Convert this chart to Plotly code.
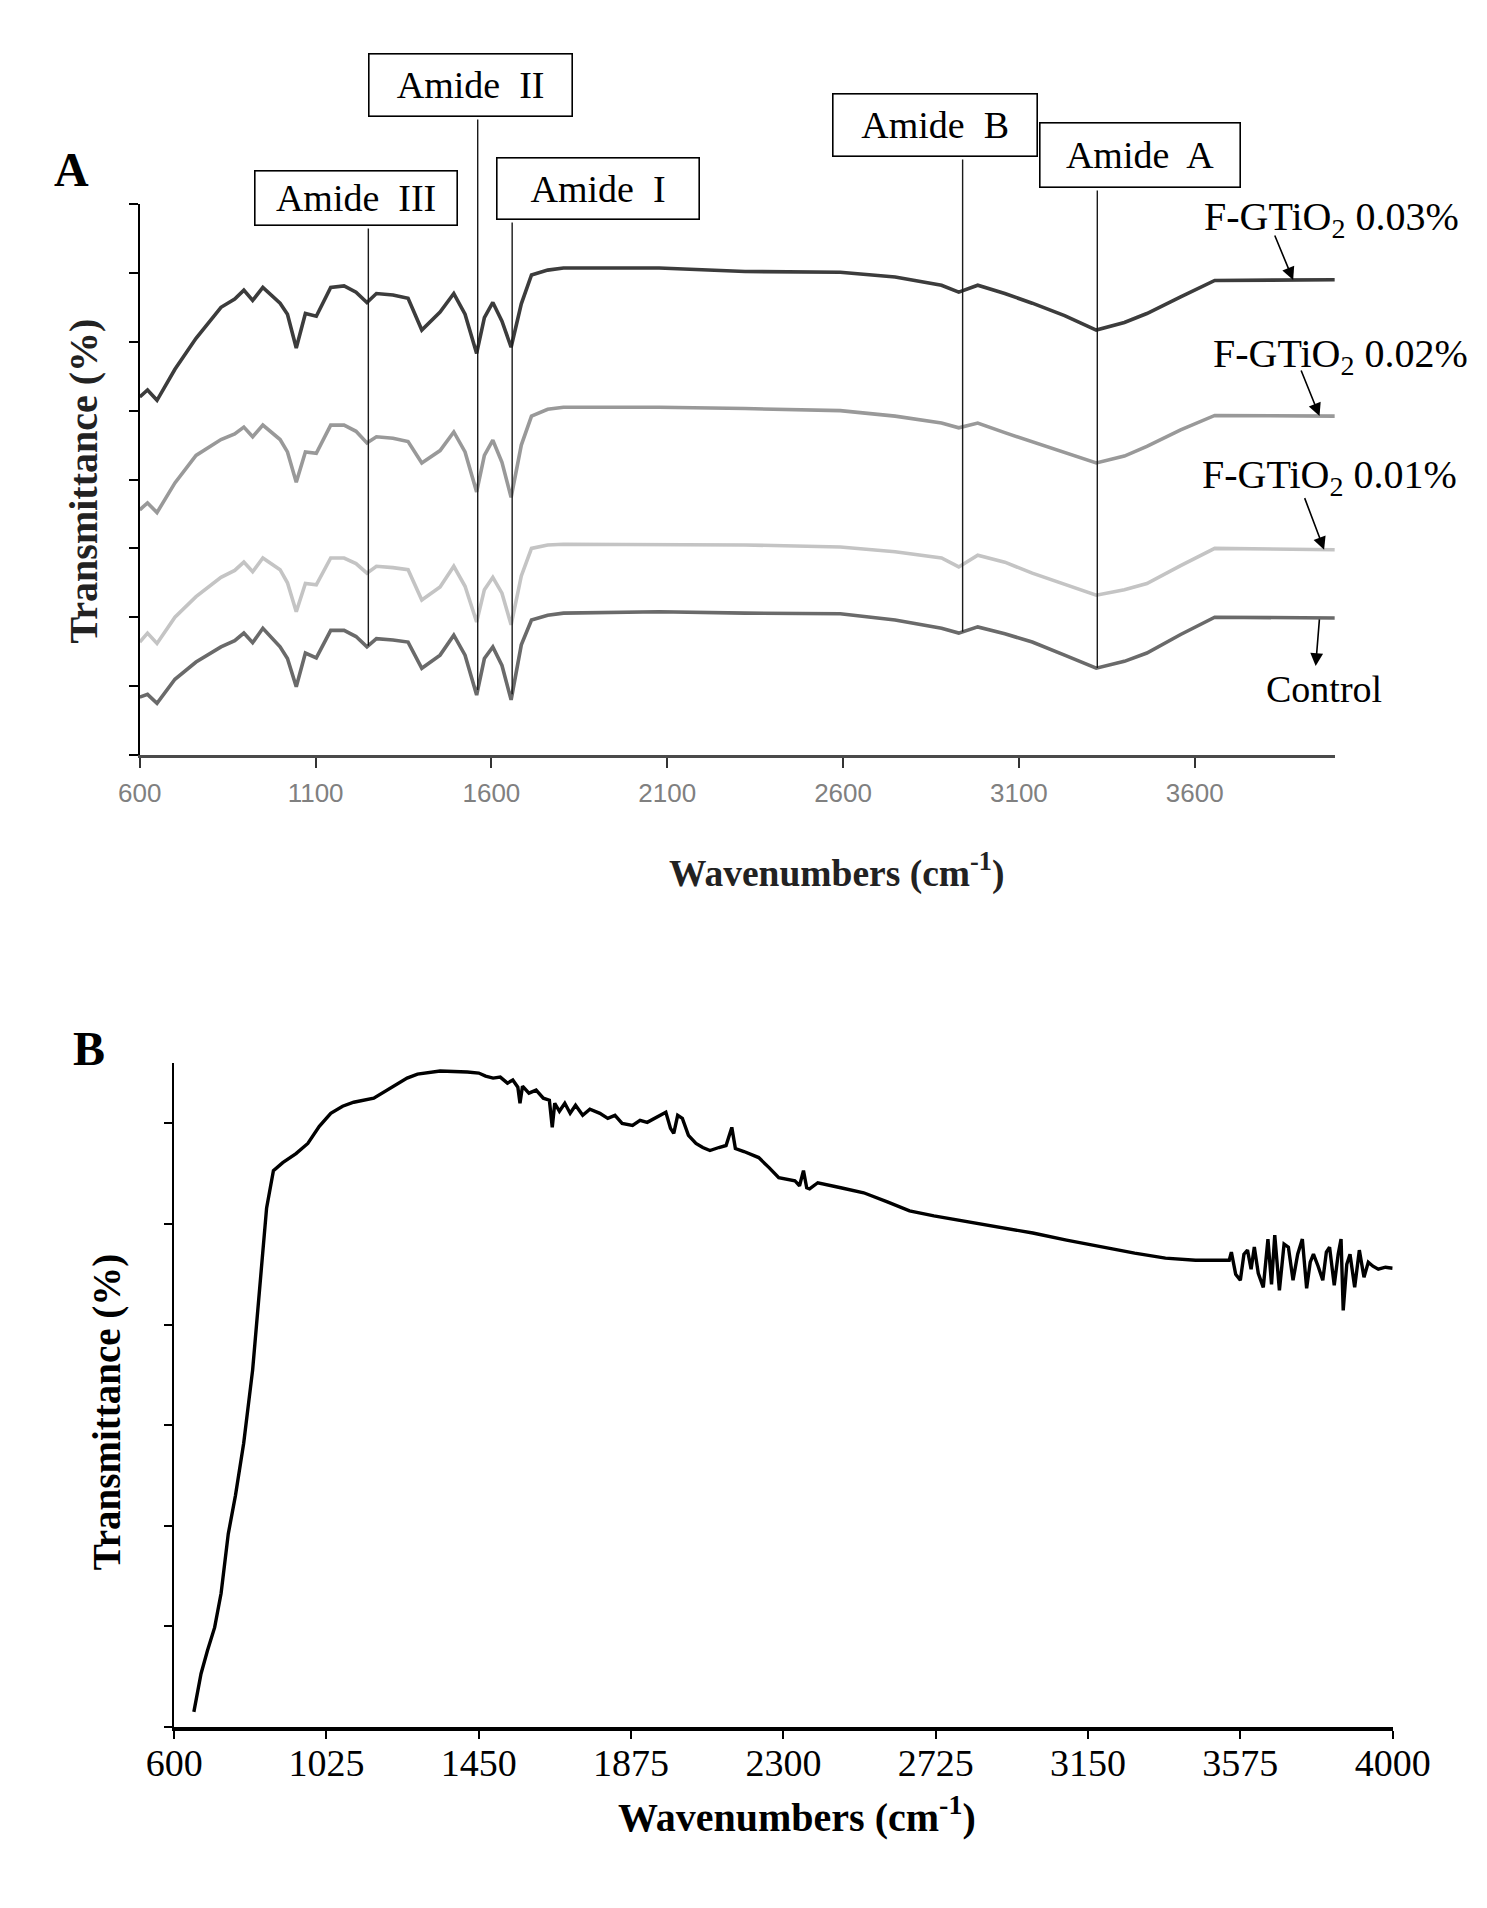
import numpy as np
import plotly.graph_objects as go

W, H = 1487, 1908

# ---------------- Panel A data (FTIR of films) ----------------
wn_a = [600, 622, 649, 700, 760, 831, 870, 896, 921, 950, 999, 1020, 1045, 1071, 1102,
        1143, 1181, 1215, 1246, 1273, 1320, 1363, 1402, 1454, 1493, 1525, 1558, 1580,
        1604, 1630, 1656, 1685, 1714, 1760, 1805, 2077, 2321, 2592, 2748, 2880, 2929,
        2983, 3060, 3138, 3230, 3320, 3400, 3464, 3560, 3657, 3998]

t_003 = [5.20, 5.30, 5.15, 5.60, 6.05, 6.50, 6.62, 6.75, 6.60, 6.79, 6.56, 6.40, 5.91, 6.41, 6.37,
         6.79, 6.81, 6.72, 6.57, 6.70, 6.68, 6.63, 6.17, 6.43, 6.70, 6.40, 5.83, 6.35,
         6.57, 6.30, 5.92, 6.55, 6.97, 7.04, 7.07, 7.07, 7.02, 7.01, 6.94, 6.82, 6.72,
         6.82, 6.70, 6.56, 6.38, 6.17, 6.28, 6.41, 6.65, 6.89, 6.90]

t_002 = [3.56, 3.66, 3.52, 3.95, 4.35, 4.58, 4.66, 4.76, 4.62, 4.79, 4.58, 4.40, 3.96, 4.40, 4.38,
         4.79, 4.79, 4.70, 4.53, 4.62, 4.60, 4.55, 4.24, 4.42, 4.69, 4.40, 3.82, 4.35,
         4.57, 4.25, 3.74, 4.50, 4.92, 5.02, 5.05, 5.05, 5.03, 5.00, 4.92, 4.82, 4.75,
         4.82, 4.68, 4.55, 4.40, 4.24, 4.34, 4.48, 4.72, 4.93, 4.92]

t_001 = [1.64, 1.77, 1.62, 2.00, 2.30, 2.58, 2.68, 2.80, 2.66, 2.86, 2.69, 2.50, 2.08, 2.49, 2.47,
         2.86, 2.86, 2.78, 2.64, 2.74, 2.72, 2.69, 2.25, 2.44, 2.74, 2.45, 1.93, 2.40,
         2.58, 2.35, 1.89, 2.60, 3.00, 3.05, 3.06, 3.06, 3.05, 3.02, 2.95, 2.86, 2.73,
         2.90, 2.80, 2.64, 2.48, 2.32, 2.40, 2.49, 2.75, 3.00, 2.98]

t_ctrl = [0.84, 0.88, 0.75, 1.10, 1.35, 1.57, 1.66, 1.77, 1.63, 1.84, 1.57, 1.40, 0.99, 1.48, 1.41,
          1.81, 1.81, 1.72, 1.57, 1.69, 1.67, 1.64, 1.26, 1.45, 1.74, 1.45, 0.87, 1.40,
          1.57, 1.30, 0.80, 1.60, 1.96, 2.03, 2.06, 2.08, 2.06, 2.05, 1.96, 1.84, 1.77,
          1.86, 1.76, 1.64, 1.45, 1.26, 1.36, 1.48, 1.75, 2.00, 1.99]

series_names = ["F-GTiO<sub>2</sub> 0.03%", "F-GTiO<sub>2</sub> 0.02%",
                "F-GTiO<sub>2</sub> 0.01%", "Control"]
series_colors = ["#3c3c3c", "#999999", "#c4c4c4", "#6a6a6a"]

band_names = ["Amide\u00a0 III", "Amide\u00a0 II", "Amide\u00a0 I", "Amide\u00a0 B", "Amide\u00a0 A"]
band_wn = [1250, 1561, 1659, 2940, 3323]

xticks_a = [600, 1100, 1600, 2100, 2600, 3100, 3600]

# ---------------- Panel B data (TiO2 spectrum) ----------------
wn_b = [655, 675, 693, 713, 731, 751, 771, 794, 819, 839, 858, 877, 903, 940, 973, 1005, 1037,
        1070, 1101, 1157, 1190, 1215, 1250, 1279, 1342, 1418, 1450, 1469, 1490, 1510, 1530,
        1545, 1559, 1565, 1572, 1590, 1610, 1630, 1647, 1655, 1662, 1675, 1690, 1705, 1720,
        1740, 1760, 1788, 1810, 1830, 1850, 1879, 1900, 1920, 1945, 1972, 1985, 1994, 2005,
        2018, 2035, 2056, 2075, 2095, 2120, 2140, 2156, 2166, 2190, 2231, 2260, 2287, 2332,
        2345, 2356, 2365, 2373, 2396, 2460, 2524, 2590, 2652, 2720, 2804, 2900, 2996, 3090,
        3187, 3280, 3366, 3450, 3544, 3550, 3562, 3575, 3585, 3595, 3605, 3614, 3625, 3639,
        3652, 3662, 3671, 3684, 3697, 3709, 3722, 3735, 3748, 3760, 3770, 3779, 3792, 3805,
        3815, 3824, 3837, 3848, 3856, 3862, 3872, 3881, 3894, 3907, 3920, 3932, 3945, 3960,
        3980, 4000]

t_b = [0.15, 0.53, 0.76, 0.99, 1.33, 1.92, 2.30, 2.82, 3.55, 4.37, 5.16, 5.53, 5.61, 5.70, 5.80,
       5.97, 6.10, 6.17, 6.21, 6.25, 6.32, 6.38, 6.45, 6.49, 6.52, 6.51, 6.50, 6.47, 6.45, 6.46,
       6.40, 6.43, 6.36, 6.20, 6.37, 6.30, 6.33, 6.25, 6.23, 5.96, 6.20, 6.12, 6.20, 6.10, 6.18,
       6.08, 6.14, 6.10, 6.05, 6.08, 6.00, 5.98, 6.03, 6.01, 6.06, 6.11, 5.95, 5.90, 6.08,
       6.05, 5.88, 5.80, 5.76, 5.73, 5.76, 5.78, 5.96, 5.75, 5.72, 5.66, 5.56, 5.46, 5.43,
       5.38, 5.53, 5.36, 5.35, 5.41, 5.36, 5.31, 5.22, 5.13, 5.08, 5.03, 4.97, 4.91, 4.84,
       4.77, 4.71, 4.66, 4.64, 4.64, 4.72, 4.50, 4.44, 4.70, 4.74, 4.55, 4.77, 4.51, 4.37,
       4.85, 4.40, 4.89, 4.34, 4.80, 4.77, 4.44, 4.70, 4.85, 4.36, 4.62, 4.70, 4.58, 4.44,
       4.72, 4.77, 4.39, 4.70, 4.85, 4.14, 4.60, 4.70, 4.37, 4.74, 4.47, 4.62, 4.58, 4.55,
       4.57, 4.56]

xticks_b = [600, 1025, 1450, 1875, 2300, 2725, 3150, 3575, 4000]

# ---------------- geometry helpers (pixels -> paper) ----------------
def px(x):
    return x / W

def py(y):
    return 1 - y / H

A_L, A_R, A_T, A_B = 116, 1368, 204, 755
B_L, B_R, B_T, B_B = 152, 1428, 1063, 1727
A_YMAX = 8
B_YMAX = 6.6

def a_val_from_px(ypix):
    return (A_B - ypix) / (A_B - A_T) * A_YMAX

SERIF = "Liberation Serif, Times New Roman, serif"
SANS = "Liberation Sans, Arial, sans-serif"

fig = go.Figure()

series_a = [t_003, t_002, t_001, t_ctrl]
for name, vals, col in zip(series_names, series_a, series_colors):
    fig.add_trace(go.Scatter(x=wn_a, y=vals, mode="lines", name=name,
                             line=dict(color=col, width=3.6), xaxis="x", yaxis="y",
                             showlegend=False, hoverinfo="skip"))

fig.add_trace(go.Scatter(x=wn_b, y=t_b, mode="lines", name="B",
                         line=dict(color="black", width=3.4), xaxis="x2", yaxis="y2",
                         showlegend=False, hoverinfo="skip"))

annotations = []


def text_ann(xp, yp, text, size, color="black", angle=0, xanchor="center", bold=False):
    return dict(xref="paper", yref="paper", x=px(xp), y=py(yp),
                text=f"<b>{text}</b>" if bold else text, showarrow=False,
                xanchor=xanchor, yanchor="middle", textangle=angle,
                font=dict(family=SERIF, size=size, color=color))


# band label boxes (pixel geometry of each box: left, top, right, bottom)
band_boxes = [(240, 170, 444, 226), (360, 53, 565, 117), (494, 157, 698, 220),
              (846, 93, 1052, 157), (1062, 122, 1264, 188)]
for name, wn, (l, t, r, b) in zip(band_names, band_wn, band_boxes):
    annotations.append(dict(xref="paper", yref="paper", x=px((l + r) / 2), y=py((t + b) / 2),
                            text=name, showarrow=False, xanchor="center", yanchor="middle",
                            font=dict(family=SERIF, size=38, color="black"),
                            bordercolor="black", borderwidth=1.6, borderpad=0,
                            width=(r - l) - 3, height=(b - t) - 3, bgcolor="white"))
    y_bottom = float(np.interp(wn, wn_a, t_ctrl))
    annotations.append(dict(xref="x", yref="y", axref="x", ayref="y",
                            x=wn, y=y_bottom, ax=wn, ay=a_val_from_px(b + 1),
                            text="", showarrow=True, arrowhead=0, arrowwidth=1.4,
                            arrowcolor="#1a1a1a", standoff=0, startstandoff=0))

# series labels with arrows
label_pos = [(1228, 219), (1238, 356), (1226, 477), (1293, 689)]
label_size = [40, 40, 40, 38]
for name, (lx, ly), sz in zip(series_names, label_pos, label_size):
    annotations.append(text_ann(lx, ly, name, sz, xanchor="left"))

arrow_specs = [  # head wn, tail offset px (ax, ay)
    (3880, -19, -46), (3955, -19, -47), (3968, -20, -53)]
for (hw, axo, ayo), vals in zip(arrow_specs, series_a[:3]):
    annotations.append(dict(xref="x", yref="y", x=hw, y=float(np.interp(hw, wn_a, vals)),
                            ax=axo, ay=ayo, text="", showarrow=True, arrowhead=2,
                            arrowsize=1.6, arrowwidth=1.6, arrowcolor="black", standoff=0))
# control arrow: from curve down towards the label
ctrl_tail_wn = 3955
annotations.append(dict(xref="x", yref="y", x=3944, y=a_val_from_px(666),
                        axref="x", ayref="y", ax=ctrl_tail_wn,
                        ay=float(np.interp(ctrl_tail_wn, wn_a, t_ctrl)),
                        text="", showarrow=True, arrowhead=2, arrowsize=1.6, arrowwidth=1.6,
                        arrowcolor="black", standoff=0))

# panel letters
annotations.append(text_ann(44, 170, "A", 48, bold=True))
annotations.append(text_ann(63, 1048, "B", 48, bold=True))

# axis titles
annotations.append(text_ann(846, 871, "Wavenumbers (cm<sup>-1</sup>)", 37.5, color="#222222", bold=True))
annotations.append(text_ann(58, 481, "Transmittance (%)", 40, color="#222222", angle=-90, bold=True))
annotations.append(text_ann(804, 1814, "Wavenumbers (cm<sup>-1</sup>)", 40, bold=True))
annotations.append(text_ann(82, 1412, "Transmittance (%)", 39, angle=-90, bold=True))

fig.update_layout(
    width=W, height=H, autosize=False,
    margin=dict(l=0, r=0, t=0, b=0),
    paper_bgcolor="white", plot_bgcolor="white",
    showlegend=False,
    xaxis=dict(domain=[px(A_L), px(A_R)], range=[600, 4000], tickmode="array",
               tickvals=xticks_a, ticktext=[str(v) for v in xticks_a],
               ticks="outside", ticklen=10, tickwidth=2, tickcolor="#333333",
               showline=True, linecolor="#4a4a4a", linewidth=3,
               showgrid=False, zeroline=False, ticklabelstandoff=3,
               tickfont=dict(family=SANS, size=26, color="#808080"), anchor="y"),
    yaxis=dict(domain=[py(A_B), py(A_T)], range=[0, A_YMAX], dtick=1, tick0=0,
               ticks="outside", ticklen=9, tickwidth=2, tickcolor="black",
               showticklabels=False, showline=True, linecolor="black", linewidth=2,
               showgrid=False, zeroline=False, anchor="x"),
    xaxis2=dict(domain=[px(B_L), px(B_R)], range=[600, 4000], tickmode="array",
                tickvals=xticks_b, ticktext=[str(v) for v in xticks_b],
                ticks="outside", ticklen=8, tickwidth=2, tickcolor="black",
                showline=True, linecolor="black", linewidth=4,
                showgrid=False, zeroline=False, ticklabelstandoff=-9,
                tickfont=dict(family=SERIF, size=38, color="black"), anchor="y2"),
    yaxis2=dict(domain=[py(B_B), py(B_T)], range=[0, B_YMAX], dtick=1, tick0=0,
                ticks="outside", ticklen=8, tickwidth=2, tickcolor="black",
                showticklabels=False, showline=True, linecolor="black", linewidth=2,
                showgrid=False, zeroline=False, anchor="x2"),
    annotations=annotations,
)

fig.write_html("out.html")
